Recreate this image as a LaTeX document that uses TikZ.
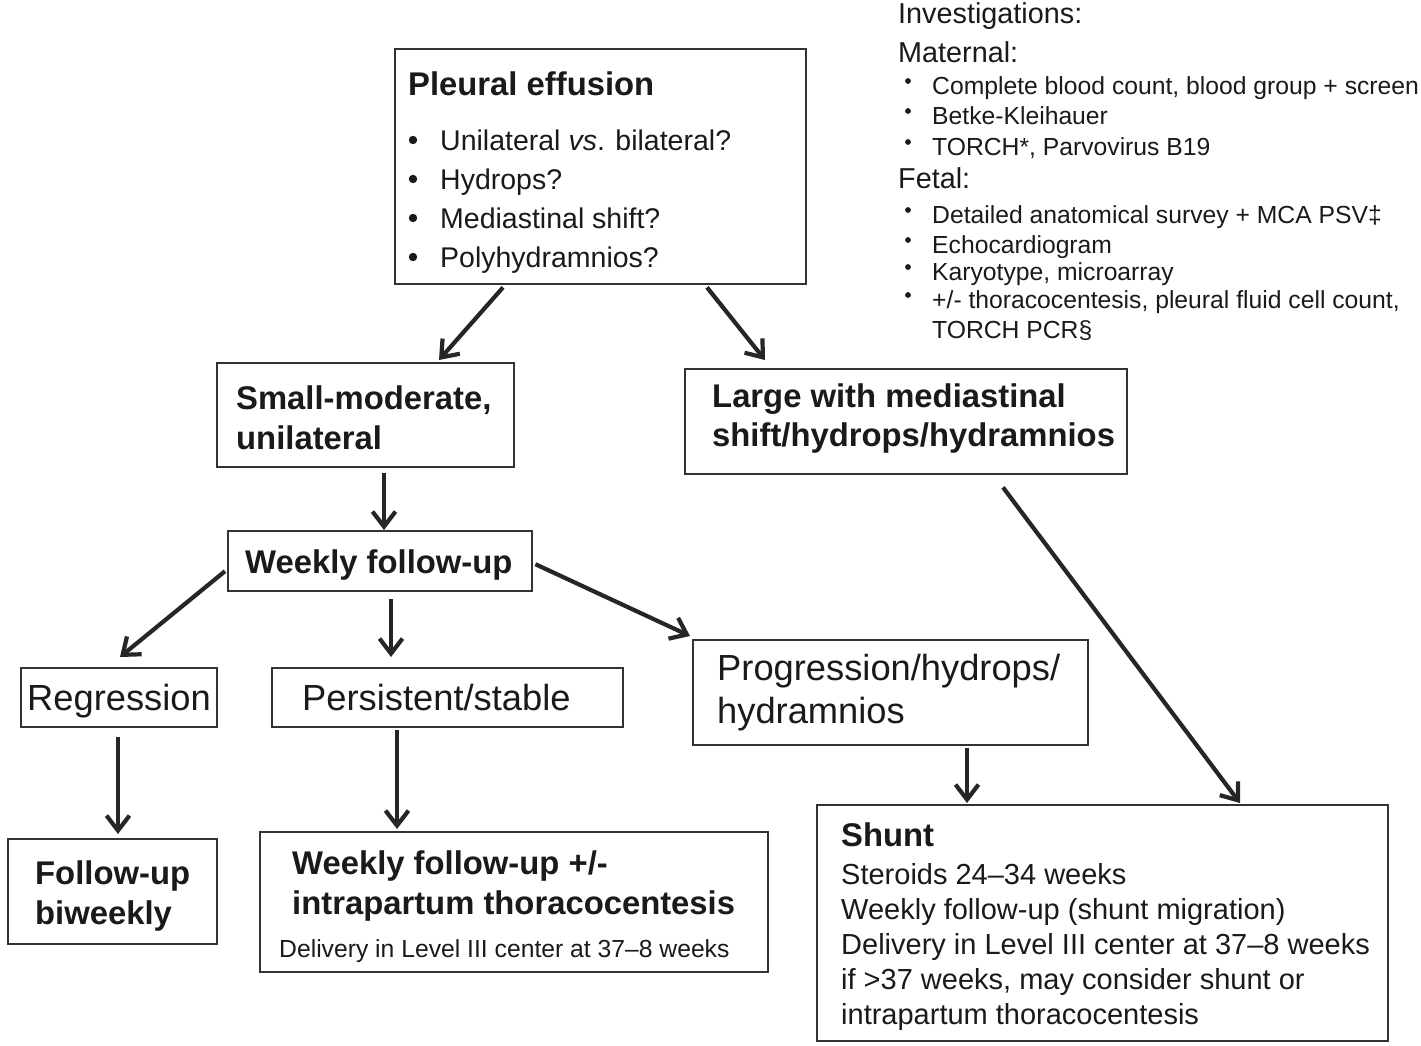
\documentclass[tikz,border=0pt]{standalone}
\usepackage{fontspec}
\setmainfont{Liberation Sans}
\usetikzlibrary{arrows.meta}
\definecolor{ink}{HTML}{1A1A1A}
\definecolor{boxgray}{HTML}{333333}
\definecolor{arrowgray}{HTML}{262626}
\newcommand\fsHead{\fontsize{32.8}{39}\selectfont\bfseries}
\newcommand\fsItem{\fontsize{28.5}{34}\selectfont}
\newcommand\fsInvH{\fontsize{28.8}{34}\selectfont}
\newcommand\fsInv{\fontsize{24.7}{30}\selectfont}
\newcommand\fsMid{\fontsize{36.3}{43}\selectfont}
\newcommand\fsSmall{\fontsize{24.7}{30}\selectfont}
\newcommand\fsShunt{\fontsize{29}{35}\selectfont}
\begin{document}
\begin{tikzpicture}[x=1pt,y=-1pt,
  box/.style={draw=boxgray, line width=2.4pt, inner sep=0pt, anchor=north west},
  txt/.style={anchor=base west, inner sep=0pt, text=ink},
  arr/.style={draw=arrowgray, line width=4.2pt, -{Straight Barb[length=15pt,width=23pt]}},
  bul/.style={fill=ink}]
\fill[white] (0,0) rectangle (1421,1045);
\useasboundingbox (0,0) rectangle (1421,1045);

% ---------- boxes ----------
\node[box, minimum width=411pt, minimum height=235pt] (pe) at (394,48) {};
\node[box, minimum width=297pt, minimum height=104pt] (sm) at (216,362) {};
\node[box, minimum width=442pt, minimum height=105pt] (lg) at (684,368) {};
\node[box, minimum width=304pt, minimum height=60pt] (wk) at (227,530) {};
\node[box, minimum width=196pt, minimum height=59pt] (rg) at (20,667) {};
\node[box, minimum width=351pt, minimum height=59pt] (ps) at (271,667) {};
\node[box, minimum width=395pt, minimum height=105pt] (pg) at (692,639) {};
\node[box, minimum width=209pt, minimum height=105pt] (fu) at (7,838) {};
\node[box, minimum width=508pt, minimum height=140pt] (wt) at (259,831) {};
\node[box, minimum width=571pt, minimum height=236pt] (sh) at (816,804) {};

% ---------- Pleural effusion ----------
\node[txt, font=\fsHead] (pe1) at (408,95) {Pleural effusion};
\node[txt, font=\fsItem] (pe2) at (440,150) {Unilateral \textit{vs}. bilateral?};
\node[txt, font=\fsItem] (pe3) at (440,189) {Hydrops?};
\node[txt, font=\fsItem] (pe4) at (440,228) {Mediastinal shift?};
\node[txt, font=\fsItem] (pe5) at (440,267) {Polyhydramnios?};
\foreach \yy in {150,189,228,267} \fill[bul] (413,\yy-10) circle (4.2pt);

% ---------- Investigations ----------
\node[txt, font=\fsInvH] (iv0) at (898,23) {Investigations:};
\node[txt, font=\fsInvH] (iv1) at (898,62) {Maternal:};
\node[txt, font=\fsInv] (iv2) at (932,94) {Complete blood count, blood group + screen};
\node[txt, font=\fsInv] (iv3) at (932,124) {Betke-Kleihauer};
\node[txt, font=\fsInv] (iv4) at (932,155) {TORCH*, Parvovirus B19};
\node[txt, font=\fsInvH] (iv5) at (898,188) {Fetal:};
\node[txt, font=\fsInv] (iv6) at (932,223) {Detailed anatomical survey + MCA PSV‡};
\node[txt, font=\fsInv] (iv7) at (932,253) {Echocardiogram};
\node[txt, font=\fsInv] (iv8) at (932,280) {Karyotype, microarray};
\node[txt, font=\fsInv] (iv9) at (932,308) {+/- thoracocentesis, pleural fluid cell count,};
\node[txt, font=\fsInv] (iv10) at (932,338) {TORCH PCR§};
\foreach \yy in {94,124,155,223,253,280,308} \fill[bul] (908,\yy-13) circle (2.9pt);

% ---------- second level ----------
\node[txt, font=\fsHead] (sm1) at (236,409) {Small-moderate,};
\node[txt, font=\fsHead] (sm2) at (236,449) {unilateral};
\node[txt, font=\fsHead] (lg1) at (712,407) {Large with mediastinal};
\node[txt, font=\fsHead] (lg2) at (712,446) {shift/hydrops/hydramnios};
\node[txt, font=\fsHead] (wk1) at (245,573) {Weekly follow-up};

% ---------- third level ----------
\node[txt, font=\fsMid] (rg1) at (27,710) {Regression};
\node[txt, font=\fsMid] (ps1) at (302,710) {Persistent/stable};
\node[txt, font=\fsMid] (pg1) at (717,680) {Progression/hydrops/};
\node[txt, font=\fsMid] (pg2) at (717,723) {hydramnios};

% ---------- bottom level ----------
\node[txt, font=\fsHead] (fu1) at (35,884) {Follow-up};
\node[txt, font=\fsHead] (fu2) at (35,924) {biweekly};
\node[txt, font=\fsHead] (wt1) at (292,874) {Weekly follow-up +/-};
\node[txt, font=\fsHead] (wt2) at (292,914) {intrapartum thoracocentesis};
\node[txt, font=\fsSmall] (wt3) at (279,957) {Delivery in Level III center at 37–8 weeks};
\node[txt, font=\fsHead] (sh1) at (841,846) {Shunt};
\node[txt, font=\fsShunt] (sh2) at (841,884) {Steroids 24–34 weeks};
\node[txt, font=\fsShunt] (sh3) at (841,919) {Weekly follow-up (shunt migration)};
\node[txt, font=\fsShunt] (sh4) at (841,954) {Delivery in Level III center at 37–8 weeks};
\node[txt, font=\fsShunt] (sh5) at (841,989) {if >37 weeks, may consider shunt or};
\node[txt, font=\fsShunt] (sh6) at (841,1024) {intrapartum thoracocentesis};

% ---------- connectors ----------
\draw[arr] ([xshift=109pt,yshift=-2pt]pe.south west) -- ([xshift=223pt,yshift=2pt]sm.north west);
\draw[arr] ([xshift=313pt,yshift=-2pt]pe.south west) -- ([xshift=81pt,yshift=8pt]lg.north west);
\draw[arr] ([xshift=168pt,yshift=-5pt]sm.south west) -- ([xshift=157pt]wk.north west);
\draw[arr] ([xshift=-2pt,yshift=-10pt]wk.west) -- ([xshift=100pt,yshift=10pt]rg.north west);
\draw[arr] ([xshift=164pt,yshift=-7pt]wk.south west) -- ([xshift=120pt,yshift=10pt]ps.north west);
\draw[arr] ([xshift=2pt,yshift=-3pt]wk.east) -- ([xshift=-2pt,yshift=3pt]pg.north west);
\draw[arr] ([xshift=98pt,yshift=-9pt]rg.south west) -- ([xshift=111pt,yshift=4pt]fu.north west);
\draw[arr] ([xshift=126pt,yshift=-2pt]ps.south west) -- ([xshift=138pt,yshift=2pt]wt.north west);
\draw[arr] ([xshift=275pt,yshift=-2pt]pg.south west) -- ([xshift=151pt,yshift=1pt]sh.north west);
\draw[arr] ([xshift=319pt,yshift=-12pt]lg.south west) -- ([xshift=424pt,yshift=1pt]sh.north west);
\end{tikzpicture}
\end{document}
